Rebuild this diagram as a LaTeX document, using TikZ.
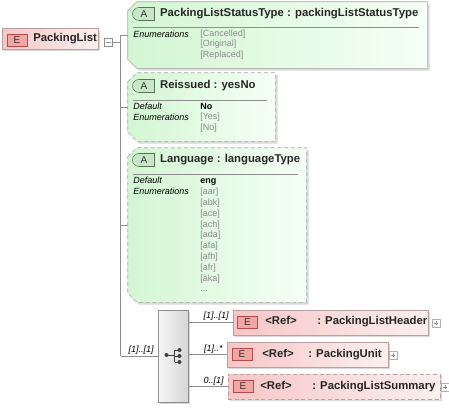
\documentclass[tikz,border=0pt]{standalone}
\usepackage{fontspec}
\setmainfont{Liberation Sans}
\usetikzlibrary{positioning}
\usetikzlibrary{shapes.misc}
\usetikzlibrary{shadows}

\definecolor{elemL}{HTML}{F7C6C6}
\definecolor{elemR}{HTML}{FDEFEF}
\definecolor{elemline}{HTML}{B8A0A0}
\definecolor{badgeE}{HTML}{F2A6A6}
\definecolor{badgeEline}{HTML}{B84A4A}
\definecolor{attrL}{HTML}{D3F6D3}
\definecolor{attrR}{HTML}{F6FFF6}
\definecolor{attrline}{HTML}{A8A8A8}
\definecolor{badgeA}{HTML}{C8E6C8}
\definecolor{badgeAline}{HTML}{5A725A}
\definecolor{enumgrey}{HTML}{8A8A8A}
\definecolor{wirec}{HTML}{8E8E8E}
\definecolor{seqL}{HTML}{F6F6F6}
\definecolor{seqR}{HTML}{D6D6D6}

\newcommand{\titlefont}{\fontsize{8.5}{10}\selectfont\bfseries}
\newcommand{\smallfont}{\fontsize{6.75}{8}\selectfont}
% chamfered outline round an attribute area node
\newcommand{\attrframe}[2][]{%
  \path[attrface,#1] ([yshift=-6.75pt]#2.north west) -- ([xshift=6.75pt]#2.north west)
    -- (#2.north east) -- (#2.south east) -- ([xshift=6.75pt]#2.south west)
    -- ([yshift=6.75pt]#2.south west) -- cycle;}

\tikzset{
  wire/.style={draw=wirec,line width=0.6pt},
  hline/.style={draw=wirec,line width=0.5pt},
  shadowed/.style={drop shadow={shadow xshift=1.8pt,shadow yshift=-1.8pt,fill=black!50,opacity=.3}},
  optional/.style={dash pattern=on 3pt off 2pt},
  elembox/.style={rectangle,draw=elemline,left color=elemL,right color=elemR,shadowed,inner sep=0pt,minimum height=18.75pt},
  attrarea/.style={rectangle,inner sep=0pt},
  attrface/.style={draw=attrline,left color=attrL,right color=attrR,shadowed},
  seqbox/.style={rectangle,draw=wirec,left color=seqL,right color=seqR,shadowed,
    minimum width=22.5pt,minimum height=69pt,inner sep=0pt},
  ebadge/.style={rectangle,draw=badgeEline,fill=badgeE,minimum width=15pt,minimum height=9pt,
    inner sep=0pt,text=black!80,font=\fontsize{7.5}{8}\selectfont},
  abadge/.style={rounded rectangle,rounded rectangle right arc=none,draw=badgeAline,fill=badgeA,
    minimum width=16.5pt,minimum height=9.75pt,inner sep=0pt,text=black!80,font=\fontsize{7.5}{8}\selectfont},
  attrtitle/.style={anchor=west,inner sep=0pt,text height=6.2pt,text depth=1.8pt,text=black!85,font=\titlefont},
  keytext/.style={anchor=west,inner sep=0pt,text height=5pt,text depth=1.4pt,font=\smallfont\itshape},
  enumval/.style={keytext,text=enumgrey,font=\smallfont},
  dfltval/.style={keytext,font=\smallfont\bfseries},
  multlabel/.style={keytext,anchor=east},
  minusbox/.style={rectangle,draw=wirec,fill=white,minimum size=6pt,inner sep=0pt,
    path picture={\draw[wirec,line width=.5pt] ([xshift=1.3pt]path picture bounding box.west) -- ([xshift=-1.3pt]path picture bounding box.east);}},
  plusbox/.style={rectangle,draw=wirec!70,fill=white,minimum size=6pt,inner sep=0pt,
    path picture={\draw[wirec,line width=.5pt] ([xshift=1.3pt]path picture bounding box.west) -- ([xshift=-1.3pt]path picture bounding box.east)
      ([yshift=1.3pt]path picture bounding box.south) -- ([yshift=-1.3pt]path picture bounding box.north);}}
}

\begin{document}
\begin{tikzpicture}[x=0.75pt,y=-0.75pt]
  \useasboundingbox (0,0) rectangle (449,407);

  % root element
  \node[elembox,minimum width=72pt,minimum height=15.4pt] (pl) at (50,38.8){};
  \node[ebadge] (plb) at (17,40.5){E};
  \node[attrtitle] (plt) at (33,39){PackingList};
  \node[minusbox] (plx) at (108.5,42.5){};
  \coordinate (tr) at (120.5,0);

  % attributes
  \node[attrarea,minimum width=224.25pt,minimum height=49.5pt] (a1) at (277.5,35){};
  \attrframe{a1}
  \node[abadge] (a1b) at (144,14){A};
  \node[attrtitle,right=3.8pt of a1b] (a1t){PackingListStatusType : packingListStatusType};
  \draw[hline] (133,27) -- (419,27);
  \node[keytext] (a1k) at (133,35){Enumerations};
  \node[enumval] (a1v1) at (200,34){[Cancelled]};
  \node[enumval] (a1v2) at (200,44.5){[Original]};
  \node[enumval] (a1v3) at (200,55){[Replaced]};

  \node[attrarea,minimum width=110.25pt,minimum height=51pt] (a2) at (201.5,107){};
  \attrframe[optional]{a2}
  \node[abadge] (a2b) at (144,86){A};
  \node[attrtitle,right=3.8pt of a2b] (a2t){Reissued : yesNo};
  \draw[hline] (133,100) -- (267,100);
  \node[keytext] (a2d) at (133,107.5){Default};
  \node[keytext] (a2k) at (133,118){Enumerations};
  \node[dfltval] (a2v0) at (200,107){No};
  \node[enumval] (a2v1) at (200,117.5){[Yes]};
  \node[enumval] (a2v2) at (200,128){[No]};

  \node[attrarea,minimum width=133.5pt,minimum height=115.5pt] (a3) at (217,225){};
  \attrframe[optional]{a3}
  \node[abadge] (a3b) at (144,160){A};
  \node[attrtitle,right=3.8pt of a3b] (a3t){Language : languageType};
  \draw[hline] (133,174) -- (298,174);
  \node[keytext] (a3d) at (133,181.5){Default};
  \node[keytext] (a3k) at (133,192){Enumerations};
  \node[dfltval] (a3v0) at (200,181.5){eng};
  \node[enumval] (a3v1) at (200,192){[aar]};
  \node[enumval] (a3v2) at (200,203){[abk]};
  \node[enumval] (a3v3) at (200,213.8){[ace]};
  \node[enumval] (a3v4) at (200,224.6){[ach]};
  \node[enumval] (a3v5) at (200,235.4){[ada]};
  \node[enumval] (a3v6) at (200,246.2){[afa]};
  \node[enumval] (a3v7) at (200,257){[afh]};
  \node[enumval] (a3v8) at (200,267.8){[afr]};
  \node[enumval] (a3v9) at (200,278.6){[aka]};
  \node[enumval] (a3v10) at (200,289.4){...};

  % sequence
  \node[seqbox] (seq) at (173,356){};
  \node[multlabel] (seqm) at (154,350){[1]..[1]};
  \draw[black!75,line width=.7pt] ([shift={(-6.5,-1)}]seq.center) -- ([shift={(1.5,-1)}]seq.center);
  \draw[black!75,line width=.7pt] ([shift={(1.5,-6)}]seq.center) -- ([shift={(1.5,6)}]seq.center);
  \draw[black!75,line width=.7pt] ([shift={(1.5,-6)}]seq.center) -- ([shift={(6.5,-6)}]seq.center);
  \draw[black!75,line width=.7pt] ([shift={(1.5,0)}]seq.center) -- ([shift={(6.5,0)}]seq.center);
  \draw[black!75,line width=.7pt] ([shift={(1.5,6)}]seq.center) -- ([shift={(6.5,6)}]seq.center);
  \fill[black!75] ([shift={(-6.5,-1)}]seq.center) circle (1.5pt);
  \fill[black!75] ([shift={(6.5,-6)}]seq.center) circle (1.5pt);
  \fill[black!75] ([shift={(6.5,0)}]seq.center) circle (1.5pt);
  \fill[black!75] ([shift={(6.5,6)}]seq.center) circle (1.5pt);

  % child elements
  \node[elembox,minimum width=146.25pt] (c1) at (330.5,322.5){};
  \node[ebadge] (c1b) at (247.5,322){E};
  \node[attrtitle] (c1r) at (265,322){<Ref>};
  \node[attrtitle] (c1n) at (317,322){: PackingListHeader};
  \node[plusbox] (c1x) at (436,323){};
  \node[multlabel] (c1m) at (229,316){[1]..[1]};

  \node[elembox,minimum width=120.75pt] (c2) at (307.5,354.5){};
  \node[ebadge] (c2b) at (242,354.5){E};
  \node[attrtitle] (c2r) at (262,354.5){<Ref>};
  \node[attrtitle] (c2n) at (308,354.5){: PackingUnit};
  \node[plusbox] (c2x) at (393,355){};
  \node[multlabel] (c2m) at (223,349){[1]..*};

  \node[elembox,optional,minimum width=159pt] (c3) at (334,386.5){};
  \node[ebadge] (c3b) at (243,386.5){E};
  \node[attrtitle] (c3r) at (260,386.5){<Ref>};
  \node[attrtitle] (c3n) at (312,386.5){: PackingListSummary};
  \node[plusbox] (c3x) at (445,387){};
  \node[multlabel] (c3m) at (224,381){0..[1]};

  % connectors
  \draw[wire] (plx.east) -- (plx.east -| tr);
  \draw[wire] (tr |- a1.west) -- (tr |- seq.west);
  \draw[wire] (tr |- a1.west) -- (a1.west);
  \draw[wire] (tr |- a2.west) -- (a2.west);
  \draw[wire] (tr |- a3.west) -- (a3.west);
  \draw[wire] (tr |- seq.west) -- (seq.west);
  \draw[wire] (seq.east |- c1.west) -- (c1.west);
  \draw[wire] (seq.east |- c2.west) -- (c2.west);
  \draw[wire] (seq.east |- c3.west) -- (c3.west);
\end{tikzpicture}
\end{document}
